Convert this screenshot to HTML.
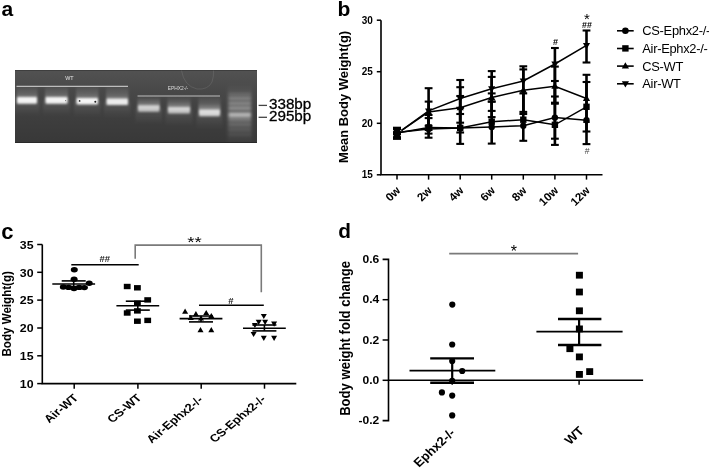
<!DOCTYPE html>
<html><head><meta charset="utf-8"><style>
html,body{margin:0;padding:0;background:#fff;}
svg{display:block;font-family:"Liberation Sans",Arial,sans-serif;}
</style></head><body>
<svg width="709" height="468" viewBox="0 0 709 468">
<defs>
<linearGradient id="gelg" x1="0" y1="0" x2="0" y2="1">
<stop offset="0" stop-color="#525252"/><stop offset="0.3" stop-color="#484848"/><stop offset="0.6" stop-color="#3f3f3f"/><stop offset="1" stop-color="#383838"/>
</linearGradient>
<filter id="blur1" x="-20%" y="-50%" width="140%" height="200%"><feGaussianBlur stdDeviation="0.9"/></filter>
<filter id="blur15" x="-20%" y="-20%" width="140%" height="140%"><feGaussianBlur stdDeviation="1.8"/></filter>
<clipPath id="gelclip"><rect x="15" y="70" width="242" height="73"/></clipPath>
<linearGradient id="glowg" x1="0" y1="0" x2="0" y2="1">
<stop offset="0" stop-color="#fff" stop-opacity="0.04"/><stop offset="0.5" stop-color="#fff" stop-opacity="0.16"/><stop offset="1" stop-color="#fff" stop-opacity="0.42"/>
</linearGradient>
<linearGradient id="glowdown" x1="0" y1="0" x2="0" y2="1">
<stop offset="0" stop-color="#fff" stop-opacity="0.1"/><stop offset="1" stop-color="#fff" stop-opacity="0"/>
</linearGradient>
<linearGradient id="ladg" x1="0" y1="0" x2="0" y2="1">
<stop offset="0" stop-color="#fff" stop-opacity="0"/><stop offset="0.15" stop-color="#fff" stop-opacity="0.07"/><stop offset="0.55" stop-color="#fff" stop-opacity="0.12"/><stop offset="0.85" stop-color="#fff" stop-opacity="0.05"/><stop offset="1" stop-color="#fff" stop-opacity="0.02"/>
</linearGradient>
<filter id="blur3" x="-20%" y="-100%" width="140%" height="300%"><feGaussianBlur stdDeviation="2.5"/></filter>
</defs>
<rect width="709" height="468" fill="#fff"/>
<text x="1.5" y="16.3" font-size="21" font-weight="bold">a</text>
<g clip-path="url(#gelclip)">
<rect x="15" y="70" width="242" height="73" fill="url(#gelg)"/>
<g filter="url(#blur1)"><rect x="14.5" y="100.5" width="25.0" height="16" fill="url(#glowdown)"/><rect x="43" y="100.5" width="27" height="16" fill="url(#glowdown)"/><rect x="74" y="101.3" width="26.5" height="16" fill="url(#glowdown)"/><rect x="104" y="101.9" width="26.5" height="16" fill="url(#glowdown)"/><rect x="135.5" y="108.6" width="26.5" height="16" fill="url(#glowdown)"/><rect x="165.5" y="110.3" width="27.0" height="16" fill="url(#glowdown)"/><rect x="196.5" y="113.0" width="26.0" height="16" fill="url(#glowdown)"/><rect x="16.5" y="87" width="21.0" height="13.5" fill="url(#glowg)" opacity="0.95"/><rect x="17.0" y="97.1" width="20.0" height="6.6" rx="1.2" fill="#fafafa" opacity="0.95"/><rect x="45" y="87" width="23" height="13.5" fill="url(#glowg)" opacity="0.95"/><rect x="45.5" y="97.1" width="22" height="6.6" rx="1.2" fill="#fafafa" opacity="0.95"/><rect x="76" y="87" width="22.5" height="14.3" fill="url(#glowg)" opacity="0.97"/><rect x="76.5" y="97.9" width="21.5" height="6.6" rx="1.2" fill="#fafafa" opacity="0.97"/><rect x="106" y="87" width="22.5" height="14.9" fill="url(#glowg)" opacity="0.90"/><rect x="106.5" y="98.5" width="21.5" height="6.6" rx="1.2" fill="#fafafa" opacity="0.90"/><rect x="137.5" y="97" width="22.5" height="11.6" fill="url(#glowg)" opacity="0.80"/><rect x="137.5" y="99.6" width="22.5" height="9" fill="url(#glowg)" opacity="0.8"/><rect x="138.0" y="105.2" width="21.5" height="6.6" rx="1.2" fill="#e8e8e8" opacity="0.74"/><rect x="167.5" y="97" width="23.0" height="13.3" fill="url(#glowg)" opacity="0.82"/><rect x="167.5" y="101.3" width="23.0" height="9" fill="url(#glowg)" opacity="0.8"/><rect x="168.0" y="106.9" width="22.0" height="6.6" rx="1.2" fill="#e8e8e8" opacity="0.75"/><rect x="198.5" y="97" width="22.0" height="16.0" fill="url(#glowg)" opacity="0.95"/><rect x="198.5" y="104.0" width="22.0" height="9" fill="url(#glowg)" opacity="0.8"/><rect x="199.0" y="109.6" width="21.0" height="6.6" rx="1.2" fill="#e8e8e8" opacity="0.87"/></g>
<circle cx="79.6" cy="100.9" r="0.9" fill="#333"/><circle cx="95.3" cy="101.7" r="1.0" fill="#222"/><circle cx="65.6" cy="100.6" r="0.6" fill="#777"/>
<g filter="url(#blur15)"><rect x="227.5" y="84" width="24.5" height="60" fill="url(#ladg)"/><rect x="228.5" y="93.0" width="22.5" height="2.5" fill="#fff" opacity="0.16"/><rect x="228.5" y="96.9" width="22.5" height="3" fill="#fff" opacity="0.3"/><rect x="228.5" y="101.7" width="22.5" height="3.2" fill="#fff" opacity="0.34"/><rect x="228.5" y="106.5" width="22.5" height="3.4" fill="#fff" opacity="0.38"/><rect x="228.5" y="112.4" width="22.5" height="4.8" fill="#fff" opacity="0.58"/><rect x="228.5" y="118.2" width="22.5" height="3" fill="#fff" opacity="0.26"/><rect x="228.5" y="123.1" width="22.5" height="3" fill="#fff" opacity="0.18"/><rect x="228.5" y="128.0" width="22.5" height="3" fill="#fff" opacity="0.11"/><rect x="228.5" y="133.0" width="22.5" height="3" fill="#fff" opacity="0.07"/></g>
<rect x="15" y="70" width="242" height="0.8" fill="#3a3a3a"/><rect x="15" y="142.2" width="242" height="0.8" fill="#262626"/>
</g>
<line x1="16.5" y1="86.4" x2="128" y2="86.4" stroke="#bdbdbd" stroke-width="1.3"/>
<line x1="137.5" y1="96" x2="220" y2="96" stroke="#bdbdbd" stroke-width="1.2"/>
<text x="65.2" y="80.3" font-size="6" textLength="8.4" lengthAdjust="spacingAndGlyphs" fill="#e6e6e6">WT</text>
<text x="167.8" y="89.9" font-size="5.8" textLength="20.4" lengthAdjust="spacingAndGlyphs" fill="#dcdcdc">EPHX2-/-</text>
<path d="M181.5 70.5 Q184 86 197 89 Q208 90 212 82 Q214 76 213.5 70.5" fill="none" stroke="#8a8a8a" stroke-width="0.6" opacity="0.45"/>
<line x1="258.6" y1="105.4" x2="267" y2="105.4" stroke="#444" stroke-width="1.3"/>
<line x1="258.6" y1="117.3" x2="267" y2="117.3" stroke="#444" stroke-width="1.3"/>
<text x="269" y="108.9" font-size="15.2" stroke="#000" stroke-width="0.3">338bp</text>
<text x="269" y="121.0" font-size="15.2" stroke="#000" stroke-width="0.3">295bp</text>
<text x="337.5" y="15.9" font-size="21" font-weight="bold">b</text>
<path d="M381 20.2 V174.8 H602.5" fill="none" stroke="#000" stroke-width="1.6"/>
<line x1="376.8" y1="20.2" x2="381" y2="20.2" stroke="#000" stroke-width="1.5"/>
<text x="372.8" y="23.8" font-size="10" font-weight="bold" text-anchor="end">30</text>
<line x1="376.8" y1="71.7" x2="381" y2="71.7" stroke="#000" stroke-width="1.5"/>
<text x="372.8" y="75.3" font-size="10" font-weight="bold" text-anchor="end">25</text>
<line x1="376.8" y1="123.3" x2="381" y2="123.3" stroke="#000" stroke-width="1.5"/>
<text x="372.8" y="126.9" font-size="10" font-weight="bold" text-anchor="end">20</text>
<line x1="376.8" y1="174.8" x2="381" y2="174.8" stroke="#000" stroke-width="1.5"/>
<text x="372.8" y="178.4" font-size="10" font-weight="bold" text-anchor="end">15</text>
<line x1="397.0" y1="174.8" x2="397.0" y2="179.6" stroke="#000" stroke-width="1.5"/>
<text transform="translate(401.1,191.2) rotate(-45)" font-size="11.5" font-weight="bold" text-anchor="end">0w</text>
<line x1="428.6" y1="174.8" x2="428.6" y2="179.6" stroke="#000" stroke-width="1.5"/>
<text transform="translate(432.7,191.2) rotate(-45)" font-size="11.5" font-weight="bold" text-anchor="end">2w</text>
<line x1="460.2" y1="174.8" x2="460.2" y2="179.6" stroke="#000" stroke-width="1.5"/>
<text transform="translate(464.3,191.2) rotate(-45)" font-size="11.5" font-weight="bold" text-anchor="end">4w</text>
<line x1="491.7" y1="174.8" x2="491.7" y2="179.6" stroke="#000" stroke-width="1.5"/>
<text transform="translate(495.8,191.2) rotate(-45)" font-size="11.5" font-weight="bold" text-anchor="end">6w</text>
<line x1="523.3" y1="174.8" x2="523.3" y2="179.6" stroke="#000" stroke-width="1.5"/>
<text transform="translate(527.4,191.2) rotate(-45)" font-size="11.5" font-weight="bold" text-anchor="end">8w</text>
<line x1="554.9" y1="174.8" x2="554.9" y2="179.6" stroke="#000" stroke-width="1.5"/>
<text transform="translate(559.0,191.2) rotate(-45)" font-size="11.5" font-weight="bold" text-anchor="end">10w</text>
<line x1="586.5" y1="174.8" x2="586.5" y2="179.6" stroke="#000" stroke-width="1.5"/>
<text transform="translate(590.6,191.2) rotate(-45)" font-size="11.5" font-weight="bold" text-anchor="end">12w</text>
<text transform="translate(347.9,96.9) rotate(-90)" font-size="12.95" font-weight="bold" text-anchor="middle">Mean Body Weight(g)</text>
<polyline points="397.0,133.6 428.6,110.9 460.2,98.5 491.7,88.7 523.3,81.0 554.9,64.0 586.5,45.4" fill="none" stroke="#000" stroke-width="1.5"/>
<polyline points="397.0,133.6 428.6,111.9 460.2,107.8 491.7,97.5 523.3,90.3 554.9,86.2 586.5,98.5" fill="none" stroke="#000" stroke-width="1.5"/>
<polyline points="397.0,133.1 428.6,127.4 460.2,127.9 491.7,121.7 523.3,119.7 554.9,124.8 586.5,106.8" fill="none" stroke="#000" stroke-width="1.5"/>
<polyline points="397.0,132.5 428.6,128.9 460.2,127.9 491.7,126.9 523.3,125.8 554.9,117.6 586.5,120.2" fill="none" stroke="#000" stroke-width="1.5"/>
<line x1="428.6" y1="88.2" x2="428.6" y2="137.7" stroke="#000" stroke-width="2.6"/>
<line x1="424.7" y1="137.7" x2="432.5" y2="137.7" stroke="#000" stroke-width="2.1"/>
<line x1="424.7" y1="88.2" x2="432.5" y2="88.2" stroke="#000" stroke-width="2.1"/>
<line x1="428.6" y1="101.6" x2="428.6" y2="133.6" stroke="#000" stroke-width="2.6"/>
<line x1="424.7" y1="133.6" x2="432.5" y2="133.6" stroke="#000" stroke-width="2.1"/>
<line x1="424.7" y1="101.6" x2="432.5" y2="101.6" stroke="#000" stroke-width="2.1"/>
<line x1="428.6" y1="115.0" x2="428.6" y2="130.0" stroke="#000" stroke-width="2.6"/>
<line x1="424.7" y1="130.0" x2="432.5" y2="130.0" stroke="#000" stroke-width="2.1"/>
<line x1="424.7" y1="115.0" x2="432.5" y2="115.0" stroke="#000" stroke-width="2.1"/>
<line x1="428.6" y1="118.1" x2="428.6" y2="125.8" stroke="#000" stroke-width="2.6"/>
<line x1="424.7" y1="125.8" x2="432.5" y2="125.8" stroke="#000" stroke-width="2.1"/>
<line x1="424.7" y1="118.1" x2="432.5" y2="118.1" stroke="#000" stroke-width="2.1"/>
<line x1="460.2" y1="80.0" x2="460.2" y2="143.9" stroke="#000" stroke-width="2.6"/>
<line x1="456.3" y1="143.9" x2="464.1" y2="143.9" stroke="#000" stroke-width="2.1"/>
<line x1="456.3" y1="80.0" x2="464.1" y2="80.0" stroke="#000" stroke-width="2.1"/>
<line x1="460.2" y1="87.2" x2="460.2" y2="132.5" stroke="#000" stroke-width="2.6"/>
<line x1="456.3" y1="132.5" x2="464.1" y2="132.5" stroke="#000" stroke-width="2.1"/>
<line x1="456.3" y1="87.2" x2="464.1" y2="87.2" stroke="#000" stroke-width="2.1"/>
<line x1="460.2" y1="96.0" x2="460.2" y2="122.7" stroke="#000" stroke-width="2.6"/>
<line x1="456.3" y1="122.7" x2="464.1" y2="122.7" stroke="#000" stroke-width="2.1"/>
<line x1="456.3" y1="96.0" x2="464.1" y2="96.0" stroke="#000" stroke-width="2.1"/>
<line x1="460.2" y1="107.8" x2="460.2" y2="114.0" stroke="#000" stroke-width="2.6"/>
<line x1="456.3" y1="114.0" x2="464.1" y2="114.0" stroke="#000" stroke-width="2.1"/>
<line x1="456.3" y1="107.8" x2="464.1" y2="107.8" stroke="#000" stroke-width="2.1"/>
<line x1="491.7" y1="71.1" x2="491.7" y2="143.6" stroke="#000" stroke-width="2.6"/>
<line x1="487.8" y1="143.6" x2="495.6" y2="143.6" stroke="#000" stroke-width="2.1"/>
<line x1="487.8" y1="71.1" x2="495.6" y2="71.1" stroke="#000" stroke-width="2.1"/>
<line x1="491.7" y1="76.9" x2="491.7" y2="117.1" stroke="#000" stroke-width="2.6"/>
<line x1="487.8" y1="117.1" x2="495.6" y2="117.1" stroke="#000" stroke-width="2.1"/>
<line x1="487.8" y1="76.9" x2="495.6" y2="76.9" stroke="#000" stroke-width="2.1"/>
<line x1="491.7" y1="93.4" x2="491.7" y2="110.9" stroke="#000" stroke-width="2.6"/>
<line x1="487.8" y1="110.9" x2="495.6" y2="110.9" stroke="#000" stroke-width="2.1"/>
<line x1="487.8" y1="93.4" x2="495.6" y2="93.4" stroke="#000" stroke-width="2.1"/>
<line x1="491.7" y1="101.6" x2="491.7" y2="101.6" stroke="#000" stroke-width="2.6"/>
<line x1="487.8" y1="101.6" x2="495.6" y2="101.6" stroke="#000" stroke-width="2.1"/>
<line x1="487.8" y1="101.6" x2="495.6" y2="101.6" stroke="#000" stroke-width="2.1"/>
<line x1="523.3" y1="66.3" x2="523.3" y2="140.8" stroke="#000" stroke-width="2.6"/>
<line x1="519.4" y1="140.8" x2="527.2" y2="140.8" stroke="#000" stroke-width="2.1"/>
<line x1="519.4" y1="66.3" x2="527.2" y2="66.3" stroke="#000" stroke-width="2.1"/>
<line x1="523.3" y1="69.4" x2="523.3" y2="114.0" stroke="#000" stroke-width="2.6"/>
<line x1="519.4" y1="114.0" x2="527.2" y2="114.0" stroke="#000" stroke-width="2.1"/>
<line x1="519.4" y1="69.4" x2="527.2" y2="69.4" stroke="#000" stroke-width="2.1"/>
<line x1="523.3" y1="93.4" x2="523.3" y2="111.9" stroke="#000" stroke-width="2.6"/>
<line x1="519.4" y1="111.9" x2="527.2" y2="111.9" stroke="#000" stroke-width="2.1"/>
<line x1="519.4" y1="93.4" x2="527.2" y2="93.4" stroke="#000" stroke-width="2.1"/>
<line x1="554.9" y1="48.0" x2="554.9" y2="144.9" stroke="#000" stroke-width="2.6"/>
<line x1="551.0" y1="144.9" x2="558.8" y2="144.9" stroke="#000" stroke-width="2.1"/>
<line x1="551.0" y1="48.0" x2="558.8" y2="48.0" stroke="#000" stroke-width="2.1"/>
<line x1="554.9" y1="66.6" x2="554.9" y2="138.7" stroke="#000" stroke-width="2.6"/>
<line x1="551.0" y1="138.7" x2="558.8" y2="138.7" stroke="#000" stroke-width="2.1"/>
<line x1="551.0" y1="66.6" x2="558.8" y2="66.6" stroke="#000" stroke-width="2.1"/>
<line x1="554.9" y1="81.0" x2="554.9" y2="102.7" stroke="#000" stroke-width="2.6"/>
<line x1="551.0" y1="102.7" x2="558.8" y2="102.7" stroke="#000" stroke-width="2.1"/>
<line x1="551.0" y1="81.0" x2="558.8" y2="81.0" stroke="#000" stroke-width="2.1"/>
<line x1="554.9" y1="96.5" x2="554.9" y2="103.7" stroke="#000" stroke-width="2.6"/>
<line x1="551.0" y1="103.7" x2="558.8" y2="103.7" stroke="#000" stroke-width="2.1"/>
<line x1="551.0" y1="96.5" x2="558.8" y2="96.5" stroke="#000" stroke-width="2.1"/>
<line x1="586.5" y1="30.5" x2="586.5" y2="62.5" stroke="#000" stroke-width="2.6"/>
<line x1="582.6" y1="62.5" x2="590.4" y2="62.5" stroke="#000" stroke-width="2.1"/>
<line x1="582.6" y1="30.5" x2="590.4" y2="30.5" stroke="#000" stroke-width="2.1"/>
<line x1="586.5" y1="74.8" x2="586.5" y2="144.1" stroke="#000" stroke-width="2.6"/>
<line x1="582.6" y1="144.1" x2="590.4" y2="144.1" stroke="#000" stroke-width="2.1"/>
<line x1="582.6" y1="74.8" x2="590.4" y2="74.8" stroke="#000" stroke-width="2.1"/>
<line x1="586.5" y1="82.0" x2="586.5" y2="131.5" stroke="#000" stroke-width="2.6"/>
<line x1="582.6" y1="131.5" x2="590.4" y2="131.5" stroke="#000" stroke-width="2.1"/>
<line x1="582.6" y1="82.0" x2="590.4" y2="82.0" stroke="#000" stroke-width="2.1"/>
<rect x="393.0" y="126.7" width="8" height="13.2" fill="#000"/>
<path d="M392.8 129.8 l1.2 0.8 l-1.2 0.8z M401.2 129.8 l-1.2 0.8 l1.2 0.8z M392.8 135 l1.2 0.8 l-1.2 0.8z M401.2 135 l-1.2 0.8 l1.2 0.8z" fill="#fff"/>
<circle cx="428.6" cy="128.9" r="3.2"/>
<rect x="425.4" y="124.2" width="6.4" height="6.4"/>
<path d="M428.6 108.2 L432.2 114.4 L425.0 114.4Z"/>
<path d="M428.6 114.7 L432.2 108.4 L425.0 108.4Z"/>
<circle cx="460.2" cy="127.9" r="3.2"/>
<rect x="457.0" y="124.7" width="6.4" height="6.4"/>
<path d="M460.2 104.0 L463.8 110.3 L456.6 110.3Z"/>
<path d="M460.2 102.3 L463.8 96.0 L456.6 96.0Z"/>
<circle cx="491.7" cy="126.9" r="3.2"/>
<rect x="488.5" y="118.5" width="6.4" height="6.4"/>
<path d="M491.7 93.7 L495.3 100.0 L488.1 100.0Z"/>
<path d="M491.7 92.5 L495.3 86.2 L488.1 86.2Z"/>
<circle cx="523.3" cy="125.8" r="3.2"/>
<rect x="520.1" y="116.5" width="6.4" height="6.4"/>
<path d="M523.3 86.5 L526.9 92.8 L519.7 92.8Z"/>
<path d="M523.3 84.8 L526.9 78.5 L519.7 78.5Z"/>
<circle cx="554.9" cy="117.6" r="3.2"/>
<rect x="551.7" y="121.6" width="6.4" height="6.4"/>
<path d="M554.9 82.4 L558.5 88.7 L551.3 88.7Z"/>
<path d="M554.9 67.8 L558.5 61.5 L551.3 61.5Z"/>
<circle cx="586.5" cy="120.2" r="3.2"/>
<rect x="583.3" y="103.6" width="6.4" height="6.4"/>
<path d="M586.5 94.8 L590.1 101.0 L582.9 101.0Z"/>
<path d="M586.5 49.2 L590.1 42.9 L582.9 42.9Z"/>
<path d="M586.5 116.4 L590.1 122.7 L582.9 122.7Z"/>
<text x="555.4" y="44.6" font-size="9" font-weight="bold" text-anchor="middle">#</text>
<text x="586.9" y="27.6" font-size="8.8" font-weight="bold" text-anchor="middle">##</text>
<text x="586.9" y="23.8" font-size="15" text-anchor="middle">*</text>
<text x="587.1" y="154" font-size="8.6" text-anchor="middle" fill="#444">#</text>
<line x1="617" y1="30.8" x2="633.7" y2="30.8" stroke="#000" stroke-width="1.6"/>
<circle cx="625.4" cy="30.8" r="3.3"/>
<text x="642.3" y="35.2" font-size="12.9" letter-spacing="-0.3">CS-Ephx2-/-</text>
<line x1="617" y1="48.5" x2="633.7" y2="48.5" stroke="#000" stroke-width="1.6"/>
<rect x="622.2" y="45.2" width="6.4" height="6.4"/>
<text x="642.3" y="52.9" font-size="12.9" letter-spacing="-0.3">Air-Ephx2-/-</text>
<line x1="617" y1="66.1" x2="633.7" y2="66.1" stroke="#000" stroke-width="1.6"/>
<path d="M625.4 62.3 L629.0 68.6 L621.8 68.6Z"/>
<text x="642.3" y="70.5" font-size="12.9" letter-spacing="-0.3">CS-WT</text>
<line x1="617" y1="83.8" x2="633.7" y2="83.8" stroke="#000" stroke-width="1.6"/>
<path d="M625.4 87.5 L629.0 81.2 L621.8 81.2Z"/>
<text x="642.3" y="88.2" font-size="12.9" letter-spacing="-0.3">Air-WT</text>
<text x="1.2" y="238.6" font-size="22" font-weight="bold">c</text>
<path d="M42.3 244.5 V383.6 H296.3" fill="none" stroke="#000" stroke-width="1.6"/>
<line x1="37.2" y1="244.5" x2="42.3" y2="244.5" stroke="#000" stroke-width="1.5"/>
<text transform="translate(33.6,248.7) scale(1.2,1)" font-size="10.3" font-weight="bold" text-anchor="end">35</text>
<line x1="37.2" y1="272.3" x2="42.3" y2="272.3" stroke="#000" stroke-width="1.5"/>
<text transform="translate(33.6,276.5) scale(1.2,1)" font-size="10.3" font-weight="bold" text-anchor="end">30</text>
<line x1="37.2" y1="300.1" x2="42.3" y2="300.1" stroke="#000" stroke-width="1.5"/>
<text transform="translate(33.6,304.3) scale(1.2,1)" font-size="10.3" font-weight="bold" text-anchor="end">25</text>
<line x1="37.2" y1="328.0" x2="42.3" y2="328.0" stroke="#000" stroke-width="1.5"/>
<text transform="translate(33.6,332.2) scale(1.2,1)" font-size="10.3" font-weight="bold" text-anchor="end">20</text>
<line x1="37.2" y1="355.8" x2="42.3" y2="355.8" stroke="#000" stroke-width="1.5"/>
<text transform="translate(33.6,360.0) scale(1.2,1)" font-size="10.3" font-weight="bold" text-anchor="end">15</text>
<line x1="37.2" y1="383.6" x2="42.3" y2="383.6" stroke="#000" stroke-width="1.5"/>
<text transform="translate(33.6,387.8) scale(1.2,1)" font-size="10.3" font-weight="bold" text-anchor="end">10</text>
<line x1="74.2" y1="383.6" x2="74.2" y2="388.7" stroke="#000" stroke-width="1.5"/>
<text transform="translate(79.2,398.5) scale(1.2,1) rotate(-45)" font-size="10.8" font-weight="bold" text-anchor="end">Air-WT</text>
<line x1="137.9" y1="383.6" x2="137.9" y2="388.7" stroke="#000" stroke-width="1.5"/>
<text transform="translate(142.4,398.5) scale(1.2,1) rotate(-45)" font-size="10.8" font-weight="bold" text-anchor="end">CS-WT</text>
<line x1="201.2" y1="383.6" x2="201.2" y2="388.7" stroke="#000" stroke-width="1.5"/>
<text transform="translate(203.7,400.5) scale(1.2,1) rotate(-45)" font-size="10.8" font-weight="bold" text-anchor="end">Air-Ephx2-/-</text>
<line x1="264.5" y1="383.6" x2="264.5" y2="388.7" stroke="#000" stroke-width="1.5"/>
<text transform="translate(266.5,400) scale(1.2,1) rotate(-45)" font-size="10.8" font-weight="bold" text-anchor="end">CS-Ephx2-/-</text>
<text transform="translate(11.4,313.8) scale(1.15,1) rotate(-90)" font-size="11.6" font-weight="bold" text-anchor="middle">Body Weight(g)</text>
<ellipse cx="74.3" cy="269.7" rx="3.5" ry="2.7"/>
<ellipse cx="74.1" cy="279.2" rx="3.5" ry="2.7"/>
<ellipse cx="89.2" cy="283.3" rx="3.5" ry="2.7"/>
<ellipse cx="63.3" cy="287.0" rx="3.5" ry="2.7"/>
<ellipse cx="68.6" cy="287.4" rx="3.5" ry="2.7"/>
<ellipse cx="74.0" cy="288.6" rx="3.5" ry="2.7"/>
<ellipse cx="79.2" cy="287.4" rx="3.5" ry="2.7"/>
<ellipse cx="84.4" cy="287.6" rx="3.5" ry="2.7"/>
<line x1="52.3" y1="284.0" x2="95.1" y2="284.0" stroke="#000" stroke-width="1.6"/>
<line x1="61.7" y1="280.9" x2="85.7" y2="280.9" stroke="#000" stroke-width="1.6"/>
<line x1="61.7" y1="286.5" x2="85.7" y2="286.5" stroke="#000" stroke-width="1.6"/>
<line x1="73.7" y1="280.9" x2="73.7" y2="286.5" stroke="#000" stroke-width="1.6"/>
<rect x="123.8" y="283.8" width="6.8" height="5.4"/>
<rect x="134.0" y="285.1" width="6.8" height="5.4"/>
<rect x="144.3" y="297.2" width="6.8" height="5.4"/>
<rect x="134.0" y="300.5" width="6.8" height="5.4"/>
<rect x="134.0" y="308.2" width="6.8" height="5.4"/>
<rect x="123.8" y="310.3" width="6.8" height="5.4"/>
<rect x="134.0" y="318.5" width="6.8" height="5.4"/>
<rect x="144.3" y="317.7" width="6.8" height="5.4"/>
<line x1="116.4" y1="305.8" x2="159.2" y2="305.8" stroke="#000" stroke-width="1.6"/>
<line x1="125.8" y1="301.2" x2="149.8" y2="301.2" stroke="#000" stroke-width="1.6"/>
<line x1="125.8" y1="310.1" x2="149.8" y2="310.1" stroke="#000" stroke-width="1.6"/>
<line x1="137.8" y1="301.2" x2="137.8" y2="310.1" stroke="#000" stroke-width="1.6"/>
<path d="M185.1 308.6 L188.1 313.8 L182.1 313.8Z"/>
<path d="M195.9 311.1 L198.9 316.3 L192.9 316.3Z"/>
<path d="M206.2 309.9 L209.2 315.1 L203.2 315.1Z"/>
<path d="M211.3 312.9 L214.3 318.1 L208.3 318.1Z"/>
<path d="M190.8 314.7 L193.8 319.9 L187.8 319.9Z"/>
<path d="M201.0 315.4 L204.0 320.6 L198.0 320.6Z"/>
<path d="M200.5 327.0 L203.5 332.2 L197.5 332.2Z"/>
<path d="M211.3 327.0 L214.3 332.2 L208.3 332.2Z"/>
<line x1="179.6" y1="318.6" x2="222.4" y2="318.6" stroke="#000" stroke-width="1.6"/>
<line x1="189.0" y1="316.0" x2="213.0" y2="316.0" stroke="#000" stroke-width="1.6"/>
<line x1="189.0" y1="321.9" x2="213.0" y2="321.9" stroke="#000" stroke-width="1.6"/>
<line x1="201.0" y1="316.0" x2="201.0" y2="321.9" stroke="#000" stroke-width="1.6"/>
<path d="M263.8 319.1 L266.8 313.9 L260.8 313.9Z"/>
<path d="M258.7 325.0 L261.7 319.8 L255.7 319.8Z"/>
<path d="M265.1 325.0 L268.1 319.8 L262.1 319.8Z"/>
<path d="M274.1 326.8 L277.1 321.6 L271.1 321.6Z"/>
<path d="M254.9 328.1 L257.9 322.9 L251.9 322.9Z"/>
<path d="M253.6 337.1 L256.6 331.9 L250.6 331.9Z"/>
<path d="M263.8 340.9 L266.8 335.7 L260.8 335.7Z"/>
<path d="M274.1 340.9 L277.1 335.7 L271.1 335.7Z"/>
<line x1="243.0" y1="328.3" x2="285.8" y2="328.3" stroke="#000" stroke-width="1.6"/>
<line x1="252.4" y1="325.0" x2="276.4" y2="325.0" stroke="#000" stroke-width="1.6"/>
<line x1="252.4" y1="330.9" x2="276.4" y2="330.9" stroke="#000" stroke-width="1.6"/>
<line x1="264.4" y1="325.0" x2="264.4" y2="330.9" stroke="#000" stroke-width="1.6"/>
<line x1="71.3" y1="264.7" x2="138.7" y2="264.7" stroke="#000" stroke-width="1.5"/>
<text x="104.8" y="261.8" font-size="9.5" font-weight="bold" text-anchor="middle" fill="#222">##</text>
<path d="M135.2 258.8 V245.1 H261.3 V292.2" fill="none" stroke="#7a7a7a" stroke-width="1.6"/>
<text transform="translate(194.6,247.4) scale(1.2,1)" font-size="15.5" text-anchor="middle">**</text>
<line x1="199" y1="305.3" x2="263.8" y2="305.3" stroke="#000" stroke-width="1.5"/>
<text x="231" y="303.8" font-size="9.5" font-weight="bold" text-anchor="middle" fill="#222">#</text>
<text x="338.2" y="238.1" font-size="20.8" font-weight="bold">d</text>
<path d="M382.6 259.4 H388.5 V420.6 H382.6" fill="none" stroke="#000" stroke-width="1.6"/>
<line x1="382.6" y1="299.7" x2="388.5" y2="299.7" stroke="#000" stroke-width="1.5"/>
<line x1="382.6" y1="340.0" x2="388.5" y2="340.0" stroke="#000" stroke-width="1.5"/>
<line x1="382.6" y1="380.3" x2="388.5" y2="380.3" stroke="#000" stroke-width="1.5"/>
<text transform="translate(379.2,263.1) scale(1.15,1)" font-size="10.5" font-weight="bold" text-anchor="end">0.6</text>
<text transform="translate(379.2,303.4) scale(1.15,1)" font-size="10.5" font-weight="bold" text-anchor="end">0.4</text>
<text transform="translate(379.2,343.7) scale(1.15,1)" font-size="10.5" font-weight="bold" text-anchor="end">0.2</text>
<text transform="translate(379.2,384.0) scale(1.15,1)" font-size="10.5" font-weight="bold" text-anchor="end">0.0</text>
<text transform="translate(379.2,424.3) scale(1.15,1)" font-size="10.5" font-weight="bold" text-anchor="end">-0.2</text>
<line x1="388.5" y1="380.3" x2="643.1" y2="380.3" stroke="#000" stroke-width="1.6"/>
<line x1="452.2" y1="380.3" x2="452.2" y2="384.8" stroke="#000" stroke-width="1.5"/>
<line x1="579.1" y1="380.3" x2="579.1" y2="384.8" stroke="#000" stroke-width="1.5"/>
<text transform="translate(349.6,338.4) scale(1.08,1) rotate(-90)" font-size="13.1" font-weight="bold" text-anchor="middle">Body weight fold change</text>
<text transform="translate(456,433.5) scale(1.08,1) rotate(-45)" font-size="12.3" font-weight="bold" text-anchor="end">Ephx2-/-</text>
<text transform="translate(584.7,431.8) scale(1.08,1) rotate(-45)" font-size="12.3" font-weight="bold" text-anchor="end">WT</text>
<circle cx="452.3" cy="304.6" r="3.1"/>
<circle cx="452.2" cy="344.5" r="3.1"/>
<circle cx="452.2" cy="361" r="3.1"/>
<circle cx="462.2" cy="371" r="3.1"/>
<circle cx="452.2" cy="380.8" r="3.1"/>
<circle cx="441.9" cy="392.4" r="3.1"/>
<circle cx="452.2" cy="395.6" r="3.1"/>
<circle cx="452.2" cy="415.4" r="3.1"/>
<line x1="409.5" y1="370.6" x2="495.3" y2="370.6" stroke="#000" stroke-width="1.6"/>
<line x1="430.2" y1="358.4" x2="474" y2="358.4" stroke="#000" stroke-width="2.4"/>
<line x1="430.2" y1="382.7" x2="474" y2="382.7" stroke="#000" stroke-width="2.4"/>
<line x1="452.2" y1="358.4" x2="452.2" y2="382.7" stroke="#000" stroke-width="2.2"/>
<rect x="575.9" y="271.8" width="7" height="6.8"/>
<rect x="575.9" y="288.6" width="7" height="6.8"/>
<rect x="575.9" y="307.4" width="7" height="6.8"/>
<rect x="575.9" y="325.5" width="7" height="6.8"/>
<rect x="566.4" y="345.3" width="7" height="6.8"/>
<rect x="575.9" y="353.5" width="7" height="6.8"/>
<rect x="575.9" y="371.0" width="7" height="6.8"/>
<rect x="586.2" y="368.2" width="7" height="6.8"/>
<line x1="536.4" y1="331.6" x2="622.6" y2="331.6" stroke="#000" stroke-width="1.6"/>
<line x1="558" y1="319" x2="601.4" y2="319" stroke="#000" stroke-width="2.4"/>
<line x1="558" y1="345" x2="601.4" y2="345" stroke="#000" stroke-width="2.4"/>
<line x1="579.1" y1="319" x2="579.1" y2="345" stroke="#000" stroke-width="2.2"/>
<line x1="449.2" y1="253.6" x2="578.1" y2="253.6" stroke="#7a7a7a" stroke-width="1.6"/>
<text x="513.9" y="257.4" font-size="16" text-anchor="middle">*</text>
</svg>
</body></html>
